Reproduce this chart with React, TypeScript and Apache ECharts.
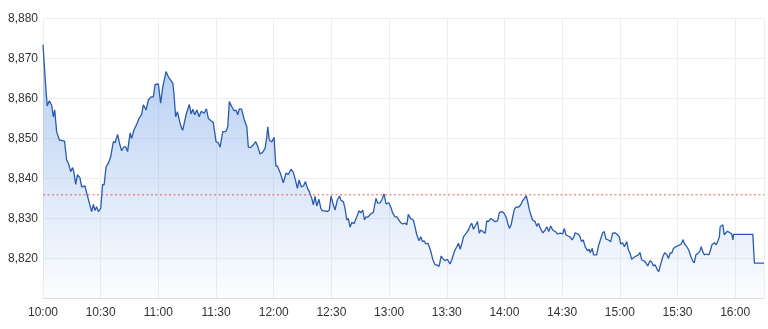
import React, { useEffect, useRef } from "react";
import * as echarts from "echarts";

const minutes: number[] = [
  0, 1.6, 2.2, 3.3, 4.5, 5.4, 6.1, 7.1, 8.5, 10.6, 11.2, 12.3, 13.2, 14.4, 15.4, 16, 17, 17.9, 19.2, 20.1,
  21.8, 23, 24.1, 25.3, 26.2, 27, 27.9, 28.8, 30, 31, 31.8, 32.8, 34, 35.2, 36.6, 37.5, 38.8, 40, 40.9, 42.1,
  43, 44, 45.3, 46.1, 47.3, 48.7, 49.9, 51.3, 52.2, 53.6, 54.8, 56.2, 57.4, 58.3, 60, 61.2, 62.3, 64, 65.2, 67.5,
  68.1, 69, 69.9, 71.3, 72.2, 72.7, 74.4, 76.1, 77, 77.9, 78.9, 80, 81.2, 82.3, 83.8, 85, 86, 87.4, 88.6, 90,
  91.2, 92.1, 93.5, 95.1, 96.1, 96.9, 98.2, 99.4, 100.4, 101.3, 102.1, 103.3, 104.6, 106, 106.8, 108, 109.4, 110.6, 111.7, 112.9,
  114.2, 115.5, 116.4, 116.9, 117.7, 119, 120.2, 121.1, 121.9, 123.3, 125, 126.4, 127.6, 129, 130.2, 131.5, 132.3, 133.2, 134.3, 135.5,
  136.5, 137.6, 138.5, 139.8, 140.6, 141.5, 142.4, 143.5, 144.5, 145.3, 146.7, 147.9, 148.9, 149.8, 151, 151.9, 153.1, 154.2, 155, 156.2,
  157.1, 158, 158.8, 159.7, 160.6, 161.8, 163.2, 164.4, 165.3, 166.3, 167.2, 168, 169, 170.4, 171.8, 173.2, 174.1, 175.3, 176.2, 177.4,
  178.4, 179.8, 181, 181.9, 183.1, 184, 184.8, 186.1, 187, 188.3, 189.2, 190, 191.2, 192.6, 193.5, 194.4, 195.6, 196.5, 197.4, 198.2,
  199.1, 200.2, 201, 201.9, 202.7, 203.9, 204.8, 206, 207.1, 207.9, 209.1, 210.3, 211.7, 212.6, 213.4, 214.3, 215.2, 216.1, 217, 217.8,
  218.7, 220.1, 221.3, 222.1, 223, 223.9, 224.8, 226, 226.9, 227.7, 228.8, 230, 230.8, 231.7, 232.9, 234, 235.2, 236.4, 237.4, 238.6,
  239.8, 240.9, 241.7, 242.6, 243.5, 244.3, 245.2, 246.1, 247.3, 248.5, 249.4, 250.5, 251.3, 251.9, 252.8, 253.7, 254.6, 256, 256.8, 257.7,
  258.9, 260, 261.2, 262.1, 263, 264.1, 265.1, 266.5, 267.7, 269.1, 270.3, 271.1, 272, 273.1, 274.3, 275.2, 276.1, 276.8, 278.2, 279.2,
  280.1, 281, 282, 283.3, 284.1, 284.6, 285.7, 286.3, 288, 288.9, 290, 291.1, 291.9, 292.8, 294.1, 295.3, 296.3, 297.5, 298.4, 299.7,
  300.5, 301.5, 302.4, 303.6, 304.5, 305.3, 306.2, 307.4, 308.5, 309.7, 310.5, 311.4, 312.6, 313.7, 314.5, 315.7, 316.6, 317.5, 318.3, 319.6,
  320.3, 321.4, 322.4, 323.3, 324.5, 325.3, 326.2, 327, 327.9, 329, 330, 331.1, 332.1, 332.8, 333.7, 334.9, 336, 337, 337.9, 338.7,
  339.6, 340.7, 341.5, 342.4, 343.1, 344, 345, 346.3, 347.2, 347.9, 349.2, 350.1, 350.9, 351.8, 352.2, 353.6, 354.3, 355.2, 356, 357.3,
  358.2, 358.8, 359.2, 369.2, 370, 375,
];

const prices: number[] = [
  8873.3, 8861.6, 8858, 8859.3, 8858.2, 8855.3, 8857, 8851.6, 8849.5, 8849.3, 8849.2, 8844.5, 8843.7, 8841.6, 8842.6, 8841.6, 8838.4, 8840.8, 8840.1, 8837.8,
  8838, 8835.8, 8833.7, 8831.6, 8833.4, 8831.9, 8832.8, 8831.6, 8832.4, 8838.4, 8838.3, 8842.8, 8843.7, 8845.3, 8849.1, 8848.8, 8850.9, 8848.3, 8846.8, 8847.8,
  8847.8, 8846.6, 8851.3, 8849.9, 8852, 8853.4, 8854.9, 8855.9, 8858.3, 8857, 8859.5, 8860.3, 8860.3, 8863.4, 8863.5, 8858.7, 8862.8, 8866.6, 8865.3, 8863.7,
  8861.2, 8855.3, 8856.6, 8853.7, 8852.3, 8852, 8855.8, 8858.4, 8856, 8857.2, 8855.8, 8857, 8855.3, 8856.7, 8856.2, 8857.3, 8854.9, 8854.3, 8853.8, 8849.1,
  8848.8, 8847.7, 8851.6, 8851.6, 8852.8, 8859.1, 8857.8, 8856.8, 8857, 8855.8, 8857.3, 8857.2, 8854.7, 8852.8, 8847.7, 8847.6, 8848.3, 8849.1, 8847.9, 8846,
  8846.4, 8847.4, 8850.3, 8852.8, 8849.5, 8849, 8850.2, 8843, 8843, 8841.4, 8838.8, 8841.2, 8840.9, 8842.2, 8841.4, 8839.1, 8837.4, 8839.5, 8837.8, 8838,
  8839.1, 8837.4, 8836.6, 8834.9, 8833.3, 8835.4, 8833, 8834.7, 8832.4, 8831.8, 8831.8, 8831.6, 8832, 8835.5, 8833.3, 8832, 8834.5, 8835.5, 8834.4, 8834.1,
  8832.4, 8829.5, 8829.9, 8827.7, 8828.9, 8828.6, 8830.3, 8831.8, 8831.3, 8832, 8829.5, 8830.3, 8830.2, 8831, 8831.4, 8834.9, 8833.7, 8833.8, 8834.5, 8836,
  8833.5, 8833.8, 8832.6, 8831.2, 8830.3, 8830.3, 8829.7, 8828.8, 8828.5, 8828.7, 8828.3, 8830.9, 8829.9, 8829.5, 8827.8, 8825.8, 8824.3, 8825.3, 8824.1, 8824.3,
  8823.5, 8823.7, 8822.7, 8821.3, 8819.7, 8818.3, 8818.3, 8817.9, 8820.5, 8819.9, 8819.3, 8819.7, 8818.5, 8819.5, 8820.8, 8822, 8822.8, 8823.7, 8822.2, 8823.5,
  8825.3, 8826.2, 8827, 8828, 8828.7, 8827.2, 8828, 8829.1, 8826.2, 8827, 8826.6, 8826.2, 8829.3, 8829.1, 8829.9, 8829.5, 8829.1, 8829.3, 8831.4, 8831.6,
  8831.2, 8830.2, 8828.7, 8827.4, 8828.3, 8830.3, 8832.2, 8832.8, 8832.7, 8833.3, 8834.3, 8834.9, 8835.6, 8834.5, 8832.4, 8830.8, 8829.5, 8829.1, 8827.9, 8828.7,
  8827.2, 8826.3, 8827, 8827.8, 8826.6, 8828, 8827, 8826.6, 8826, 8826.2, 8826, 8827.4, 8825.8, 8825.5, 8825.2, 8824.5, 8825.2, 8826.3, 8826, 8825.5,
  8824.1, 8824.5, 8822.8, 8821.8, 8822.2, 8821.3, 8822.4, 8820.8, 8820.8, 8823, 8824.7, 8826.3, 8826.6, 8824.7, 8824.5, 8824.1, 8826.2, 8826.3, 8826, 8825.3,
  8823.5, 8823.8, 8822.8, 8824.1, 8822, 8821.2, 8819.7, 8820.2, 8820.5, 8820.8, 8821.4, 8819.5, 8819.3, 8818.7, 8818, 8819.3, 8819, 8818, 8818.3, 8817,
  8816.6, 8818.7, 8820.3, 8821.3, 8820.8, 8819.9, 8821.3, 8821.2, 8822.4, 8822.8, 8823, 8823.2, 8823.6, 8824.6, 8823.5, 8822.8, 8821.8, 8820.3, 8819.3, 8818.8,
  8820.8, 8821.2, 8821.6, 8822.8, 8821.6, 8820.8, 8821, 8820.8, 8822, 8823.3, 8823.8, 8823.3, 8824.1, 8825.3, 8827.8, 8828.3, 8825.8, 8826.3, 8826.7, 8826.3,
  8826.1, 8824.5, 8825.9, 8825.9, 8818.7, 8818.7,
];

const xTickLabels: string[] = [
  "10:00", "10:30", "11:00", "11:30", "12:00", "12:30", "13:00",
  "13:30", "14:00", "14:30", "15:00", "15:30", "16:00",
];

const previousClose = 8835.8;
const sessionStart = 0;
const sessionEnd = 375;

export default function App() {
  const ref = useRef<HTMLDivElement>(null);

  useEffect(() => {
    if (!ref.current) return;
    const chart = echarts.init(ref.current, undefined, { renderer: "svg" });
    const data = minutes.map((m, i) => [m, prices[i]]);
    const font = "'Liberation Sans', Arial, sans-serif";
    chart.setOption({
      animation: false,
      grid: { left: 43, right: 4, top: 18, bottom: 31, containLabel: false },
      xAxis: {
        type: "value",
        min: sessionStart,
        max: sessionEnd,
        interval: 30,
        axisLine: { show: true, lineStyle: { color: "#dcdcdc" } },
        axisTick: { show: false },
        splitLine: { show: true, lineStyle: { color: "#eeeeee" } },
        axisLabel: {
          color: "#333",
          fontSize: 12,
          fontFamily: font,
          margin: 8,
          showMaxLabel: false,
          formatter: (v: number) => {
            const idx = Math.round(v / 30);
            return Math.abs(v - idx * 30) < 0.01 && xTickLabels[idx] ? xTickLabels[idx] : "";
          },
        },
      },
      yAxis: {
        type: "value",
        min: 8810,
        max: 8880,
        interval: 10,
        axisLine: { show: false },
        axisTick: { show: false },
        splitLine: { show: true, lineStyle: { color: "#eeeeee" } },
        axisLabel: {
          color: "#333",
          fontSize: 12,
          fontFamily: font,
          margin: 5,
          showMinLabel: false,
          formatter: (v: number) => v.toLocaleString("en-US"),
        },
      },
      series: [
        {
          type: "line",
          data,
          showSymbol: false,
          symbol: "none",
          z: 3,
          lineStyle: { color: "#2b5bad", width: 1.3 },
          areaStyle: {
            color: new echarts.graphic.LinearGradient(0, 0, 0, 1, [
              { offset: 0, color: "rgba(105,155,230,0.72)" },
              { offset: 1, color: "rgba(105,155,230,0.03)" },
            ]),
          },
        },
        {
          type: "line",
          data: [
            [sessionStart, previousClose],
            [sessionEnd, previousClose],
          ],
          showSymbol: false,
          symbol: "none",
          silent: true,
          z: 4,
          lineStyle: { color: "#ee5b5b", type: [2, 2.5], width: 1 },
        },
      ],
    });
    return () => chart.dispose();
  }, []);

  return (
    <div
      ref={ref}
      style={{ position: "fixed", left: 0, top: 0, width: 768, height: 329 }}
    />
  );
}
